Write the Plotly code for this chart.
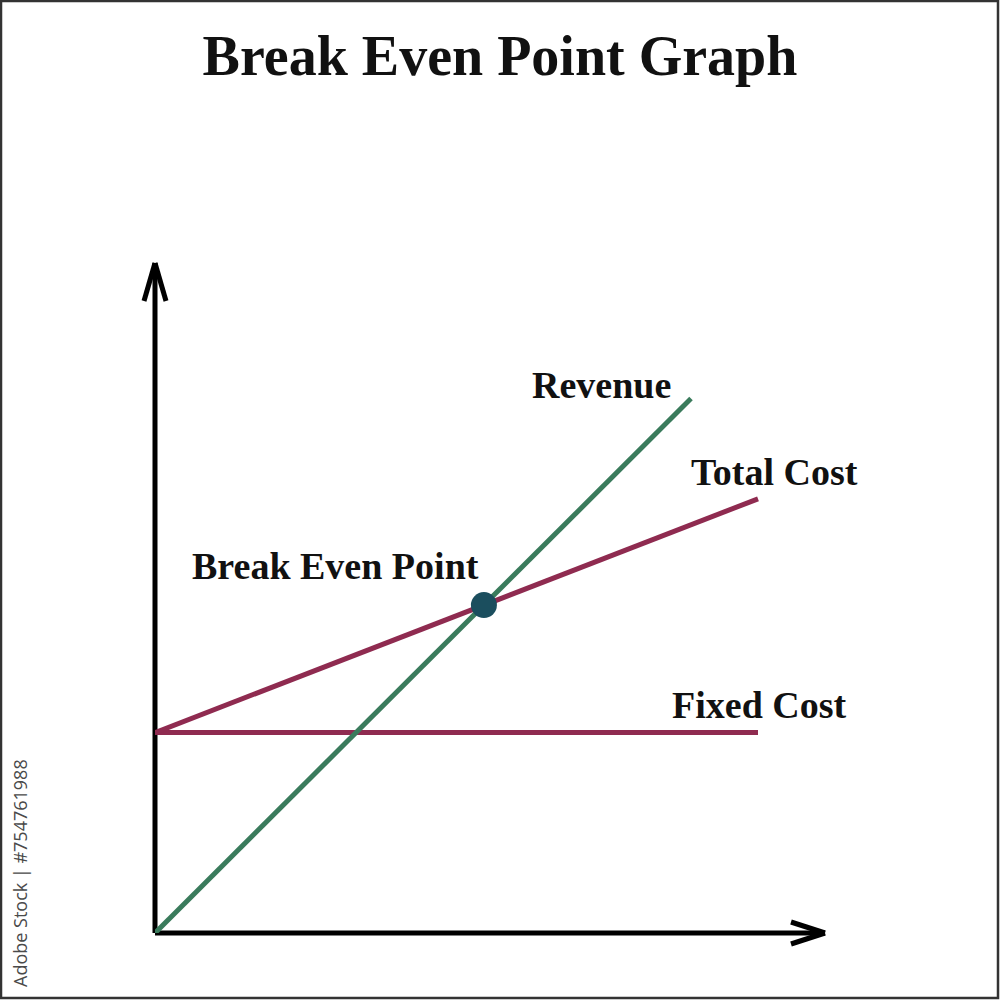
import plotly.graph_objects as go

# ---- data ----
x_max = 10
y_max = 10
fixed_cost = 3.0
revenue_x = [0, 8]
revenue_y = [0, 8]
total_cost_x = [0, 9]
total_cost_y = [3.0, 6.5]
fixed_cost_x = [0, 9]
fixed_cost_y = [fixed_cost, fixed_cost]

# break-even point from the two lines
rev_slope = (revenue_y[1] - revenue_y[0]) / (revenue_x[1] - revenue_x[0])
tc_slope = (total_cost_y[1] - total_cost_y[0]) / (total_cost_x[1] - total_cost_x[0])
be_x = total_cost_y[0] / (rev_slope - tc_slope)
be_y = rev_slope * be_x

GREEN = "#3a7b5c"
MAROON = "#8f2b50"
TEAL = "#1b4e5e"
SERIF = "Liberation Serif, Times New Roman, serif"

W, H = 1000, 1000
ML, MR, MT, MB = 155, 175, 265, 67
PW, PH = W - ML - MR, H - MT - MB

fig = go.Figure()
fig.add_trace(go.Scatter(x=fixed_cost_x, y=fixed_cost_y, mode="lines",
                         line=dict(color=MAROON, width=5), hoverinfo="skip"))
fig.add_trace(go.Scatter(x=total_cost_x, y=total_cost_y, mode="lines",
                         line=dict(color=MAROON, width=5), hoverinfo="skip"))
fig.add_trace(go.Scatter(x=revenue_x, y=revenue_y, mode="lines",
                         line=dict(color=GREEN, width=5), hoverinfo="skip"))
fig.add_trace(go.Scatter(x=[be_x], y=[be_y], mode="markers",
                         marker=dict(color=TEAL, size=26), hoverinfo="skip",
                         cliponaxis=False))

def px(dx):
    return dx / PW

def py(dy):
    return dy / PH

ax_col = "#000000"
lw = 5
shapes = [
    dict(type="line", xref="paper", yref="paper", x0=0, y0=0, x1=1, y1=0,
         line=dict(color=ax_col, width=lw), layer="below"),
    dict(type="line", xref="paper", yref="paper", x0=0, y0=0, x1=0, y1=1 + py(2),
         line=dict(color=ax_col, width=lw), layer="below"),
    # x arrow chevron
    dict(type="line", xref="paper", yref="paper", x0=1 - px(34), y0=py(11), x1=1, y1=0,
         line=dict(color=ax_col, width=lw)),
    dict(type="line", xref="paper", yref="paper", x0=1 - px(34), y0=-py(11), x1=1, y1=0,
         line=dict(color=ax_col, width=lw)),
    # y arrow chevron
    dict(type="line", xref="paper", yref="paper", x0=-px(11), y0=1 - py(36), x1=0, y1=1 + py(2),
         line=dict(color=ax_col, width=lw)),
    dict(type="line", xref="paper", yref="paper", x0=px(11), y0=1 - py(36), x1=0, y1=1 + py(2),
         line=dict(color=ax_col, width=lw)),
    # outer border
    dict(type="rect", xref="paper", yref="paper",
         x0=-px(ML - 1), x1=1 + px(MR - 2), y0=-py(MB - 2), y1=1 + py(MT - 1),
         line=dict(color="#333333", width=2.5), fillcolor="rgba(0,0,0,0)"),
]

lab_font = dict(family=SERIF, size=38, color="#111111")
annotations = [
    dict(x=6.66, y=8.2, text="<b>Revenue</b>", showarrow=False, font=lab_font,
         xanchor="center", yanchor="middle"),
    dict(x=9.24, y=6.9, text="<b>Total Cost</b>", showarrow=False, font=lab_font,
         xanchor="center", yanchor="middle"),
    dict(x=2.70, y=5.49, text="<b>Break Even Point</b>", showarrow=False, font=lab_font,
         xanchor="center", yanchor="middle"),
    dict(x=9.02, y=3.42, text="<b>Fixed Cost</b>", showarrow=False, font=lab_font,
         xanchor="center", yanchor="middle"),
    dict(xref="paper", yref="paper", x=-px(ML - 20), y=py(933 - 873),
         text="Adobe Stock | #754761988", showarrow=False, textangle=-90,
         font=dict(family="Open Sans, DejaVu Sans, sans-serif", size=18, color="#4a4a4a"),
         xanchor="center", yanchor="middle"),
]

fig.update_layout(
    width=W, height=H,
    margin=dict(l=ML, r=MR, t=MT, b=MB),
    paper_bgcolor="white", plot_bgcolor="white",
    showlegend=False,
    title=dict(text="<b>Break Even Point Graph</b>", x=0.5, xref="container",
               xanchor="center", y=1 - 55 / H, yref="container", yanchor="middle",
               font=dict(family=SERIF, size=56, color="#111111")),
    xaxis=dict(range=[0, x_max], visible=False, fixedrange=True),
    yaxis=dict(range=[0, y_max], visible=False, fixedrange=True),
    shapes=shapes,
    annotations=annotations,
)

fig.write_html(
    "out.html",
    config={"displayModeBar": False},
    post_script="document.body.style.margin='0';document.body.style.overflow='hidden';",
)
